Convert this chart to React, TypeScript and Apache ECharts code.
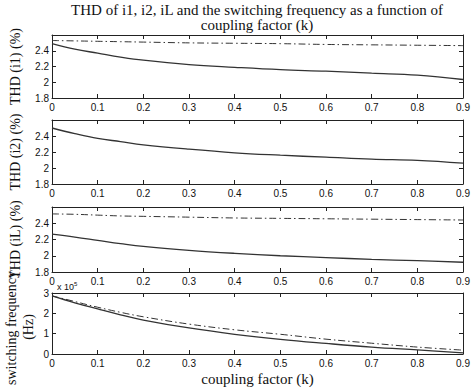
import React, { useEffect, useRef } from "react";
import * as echarts from "echarts";

const kValues = [0, 0.05, 0.1, 0.15, 0.2, 0.3, 0.4, 0.5, 0.6, 0.7, 0.8, 0.9];

const thdI1Solid = [2.49, 2.42, 2.37, 2.32, 2.28, 2.225, 2.19, 2.16, 2.14, 2.115, 2.09, 2.035];
const thdI1Dash = [2.53, 2.525, 2.52, 2.515, 2.51, 2.5, 2.495, 2.49, 2.48, 2.475, 2.47, 2.465];

const thdI2Solid = [2.5, 2.43, 2.37, 2.33, 2.29, 2.235, 2.19, 2.16, 2.135, 2.11, 2.095, 2.06];

const thdILSolid = [2.265, 2.23, 2.19, 2.15, 2.115, 2.067, 2.03, 2.0, 1.978, 1.955, 1.94, 1.92];
const thdILDash = [2.515, 2.51, 2.5, 2.49, 2.485, 2.475, 2.465, 2.46, 2.455, 2.45, 2.445, 2.44];

const fswSolid = [286000, 252000, 222000, 193000, 167000, 128000, 97000, 72000, 52000, 34000, 20000, 6000];
const fswDash = [286000, 258000, 230000, 205000, 183000, 147000, 119000, 97000, 73000, 53000, 34000, 19000];

const xTicksMin = 0;
const xTicksMax = 0.9;
const xTickStep = 0.1;

const yLabels = ["THD (i1) (%)", "THD (i2) (%)", "THD (iL) (%)"];
const fswLabelLines = ["switching frequency", "(Hz)"];

const titleText = "THD of i1, i2, iL and the switching frequency as a function of\ncoupling factor (k)";
const xName = "coupling factor (k)";

const gridTops = [35, 120, 207, 293];
const gridHeights = [63, 64, 65, 65];

export default function App() {
  const ref = useRef<HTMLDivElement>(null);
  useEffect(() => {
    if (!ref.current) return;
    const chart = echarts.init(ref.current, undefined, { renderer: "svg" });
    const sans = "Liberation Sans";
    const serif = "Liberation Serif";
    const lineColor = "#222";
    const grids = gridTops.map((t, i) => ({
      left: 52,
      top: t,
      width: 411,
      height: gridHeights[i],
      show: false,
    }));
    const xAxes: any[] = [];
    const yAxes: any[] = [];
    gridTops.forEach((_, i) => {
      xAxes.push({
        type: "value",
        gridIndex: i,
        position: "bottom",
        min: xTicksMin,
        max: xTicksMax,
        interval: xTickStep,
        axisLine: { show: true, onZero: false, lineStyle: { color: lineColor, width: 1 } },
        axisTick: { show: true, inside: true, length: 4, lineStyle: { color: lineColor } },
        axisLabel: {
          show: true,
          fontFamily: sans,
          fontSize: 10,
          color: "#111",
          margin: 4,
          formatter: (v: number) => String(Math.round(v * 10) / 10),
        },
        splitLine: { show: false },
        name: i === 3 ? xName : "",
        nameLocation: "middle",
        nameGap: 17,
        nameTextStyle: { fontFamily: serif, fontSize: 15, color: "#111" },
      });
      xAxes.push({
        type: "value",
        gridIndex: i,
        position: "top",
        min: xTicksMin,
        max: xTicksMax,
        interval: xTickStep,
        axisLine: { show: true, onZero: false, lineStyle: { color: lineColor, width: 1 } },
        axisTick: { show: true, inside: true, length: 4, lineStyle: { color: lineColor } },
        axisLabel: { show: false },
        splitLine: { show: false },
      });
      const isF = i === 3;
      const yCommon = {
        type: "value",
        gridIndex: i,
        min: isF ? 0 : 1.8,
        max: isF ? 300000 : 2.6,
        interval: isF ? 100000 : 0.2,
        splitLine: { show: false },
      };
      yAxes.push({
        ...yCommon,
        position: "left",
        axisLine: { show: true, onZero: false, lineStyle: { color: lineColor, width: 1 } },
        axisTick: { show: true, inside: true, length: 4, lineStyle: { color: lineColor } },
        axisLabel: {
          show: true,
          fontFamily: sans,
          fontSize: 10,
          color: "#111",
          margin: 3,
          showMaxLabel: isF,
          formatter: (v: number) => (isF ? String(Math.round(v / 100000)) : String(Math.round(v * 10) / 10)),
        },
        name: isF ? "" : yLabels[i],
        nameLocation: "middle",
        nameGap: 30,
        nameRotate: 90,
        nameTextStyle: { fontFamily: serif, fontSize: 14, color: "#111" },
      });
      yAxes.push({
        ...yCommon,
        position: "right",
        axisLine: { show: true, onZero: false, lineStyle: { color: lineColor, width: 1 } },
        axisTick: { show: true, inside: true, length: 4, lineStyle: { color: lineColor } },
        axisLabel: { show: false },
      });
    });
    const mk = (data: number[], axis: number, dashed: boolean) => ({
      type: "line",
      xAxisIndex: axis * 2,
      yAxisIndex: axis * 2,
      data: kValues.map((k, j) => [k, data[j]]),
      showSymbol: false,
      smooth: 0.4,
      lineStyle: {
        color: "#333",
        width: dashed ? 1 : 1.3,
        type: dashed ? [7, 3, 1.5, 3] : "solid",
      },
    });
    chart.setOption({
      animation: false,
      backgroundColor: "#fff",
      title: {
        text: titleText,
        left: 257,
        textAlign: "center",
        top: 2,
        padding: 0,
        textStyle: { fontFamily: serif, fontSize: 15, fontWeight: "normal", color: "#111", lineHeight: 15 },
      },
      grid: grids,
      xAxis: xAxes,
      yAxis: yAxes,
      series: [
        mk(thdI1Solid, 0, false),
        mk(thdI1Dash, 0, true),
        mk(thdI2Solid, 1, false),
        mk(thdILSolid, 2, false),
        mk(thdILDash, 2, true),
        mk(fswSolid, 3, false),
        mk(fswDash, 3, true),
      ],
      graphic: [
        {
          type: "text",
          x: 57,
          y: 281,
          style: {
            text: "x 10{s|5}",
            fontFamily: sans,
            fontSize: 9,
            fill: "#111",
            rich: { s: { fontSize: 6, verticalAlign: "top", padding: [0, 0, 5, 0] } },
          },
        },
        {
          type: "text",
          x: 11,
          y: 328,
          rotation: Math.PI / 2,
          style: {
            text: fswLabelLines[0],
            fontFamily: serif,
            fontSize: 14,
            fill: "#111",
            align: "center",
            verticalAlign: "middle",
          },
        },
        {
          type: "text",
          x: 28,
          y: 327,
          rotation: Math.PI / 2,
          style: {
            text: fswLabelLines[1],
            fontFamily: serif,
            fontSize: 14,
            fill: "#111",
            align: "center",
            verticalAlign: "middle",
          },
        },
      ],
    });
    return () => chart.dispose();
  }, []);
  return <div ref={ref} style={{ position: "fixed", left: 0, top: 0, width: 474, height: 387 }} />;
}
